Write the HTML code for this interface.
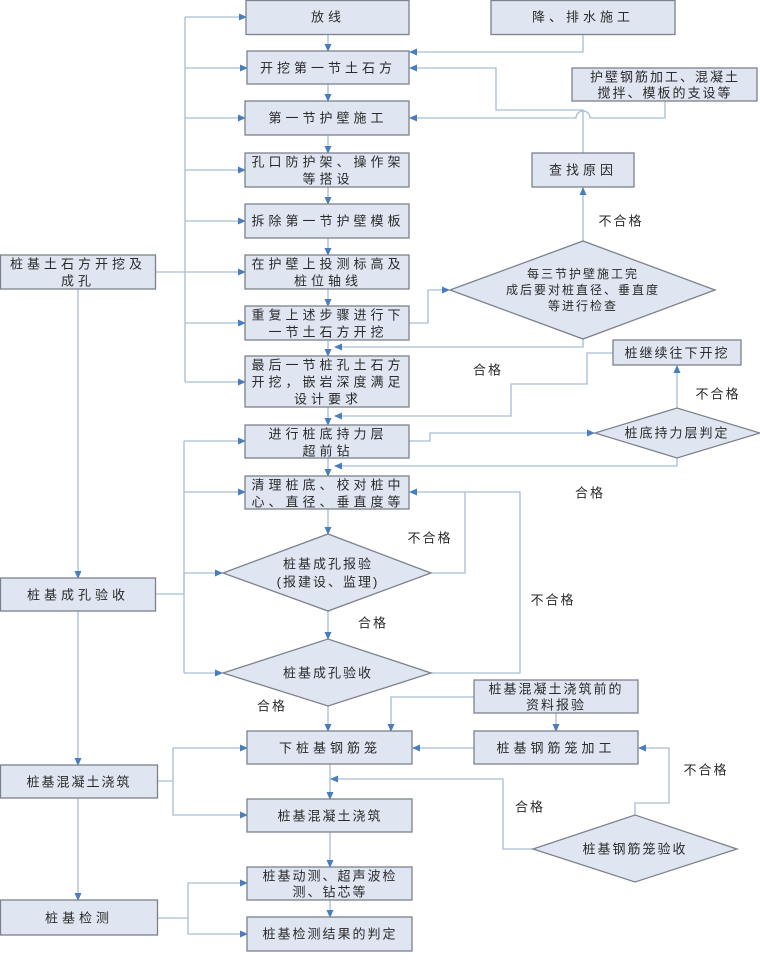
<!DOCTYPE html>
<html><head><meta charset="utf-8">
<style>
html,body{margin:0;padding:0;background:#fff;}
svg{display:block;}
text{font-family:"Liberation Sans","Noto Sans CJK SC","WenQuanYi Zen Hei",sans-serif;font-size:13px;fill:#2a2a2a;letter-spacing:4px;text-anchor:middle;dominant-baseline:central;}
.b{fill:#dfe6f2;stroke:#7c828c;stroke-width:1.3;}
.l{fill:none;stroke:#a6bdd6;stroke-width:1.3;}
.lb{letter-spacing:2px;}
</style></head>
<body>
<svg width="760" height="964" viewBox="0 0 760 964" xmlns="http://www.w3.org/2000/svg">
<defs>
<marker id="a" markerWidth="8" markerHeight="8" refX="7" refY="4" orient="auto" markerUnits="userSpaceOnUse">
<path d="M0,0.5 L8,4 L0,7.5 z" fill="#4a7ebb"/>
</marker>
</defs>

<g class="l" marker-end="url(#a)">
<path d="M78,289 V578"/>
<path d="M78,611 V765"/>
<path d="M78,798 V900"/>
<path d="M185,17 H246"/>
<path d="M185,68 H247"/>
<path d="M185,118 H245"/>
<path d="M185,170 H245"/>
<path d="M185,221 H245"/>
<path d="M155,272 H245"/>
<path d="M185,323 H245"/>
<path d="M185,382 H245"/>
<path d="M328,34 V51"/>
<path d="M328,84 V101"/>
<path d="M328,135 V153"/>
<path d="M328,187 V204"/>
<path d="M328,238 V255"/>
<path d="M328,289 V306"/>
<path d="M328,340 V356"/>
<path d="M328,407 V425"/>
<path d="M328,458 V476"/>
<path d="M328,509 V534"/>
<path d="M328,611 V639"/>
<path d="M328,706 V731"/>
<path d="M330,764 V799"/>
<path d="M330,832 V867"/>
<path d="M330,900 V917"/>
<path d="M583,34 V52 H410"/>
<path d="M583,153 V110 H496 V68 H410"/>
<path d="M665,101 V118 H590 A7,7 0 0 0 576,118 H410"/>
<path d="M583,241 V188"/>
<path d="M409,323 H428 V290 H449"/>
<path d="M583,339 V347 H335"/>
<path d="M613,353 H587 V384 H511 V416 H335"/>
<path d="M409,441 H430 V433 H594"/>
<path d="M677,408 V366"/>
<path d="M677,458 V466 H335"/>
<path d="M184,441 H245"/>
<path d="M184,492 H245"/>
<path d="M155,594 H184 V573 H222"/>
<path d="M184,673 H222"/>
<path d="M431,573 H465 V492 H410"/>
<path d="M474,697 H391 V731"/>
<path d="M556,713 V731"/>
<path d="M474,748 H413"/>
<path d="M635,815 V803 H669 V748 H639"/>
<path d="M533,849 H503 V779 H331"/>
<path d="M157,781 H173 V748 H247"/>
<path d="M173,781 V815 H247"/>
<path d="M157,918 H188 V883 H247"/>
<path d="M188,918 V934 H247"/>
</g>
<path class="l" d="M431,673 H520 V492 H465"/>
<path class="l" d="M184,441 V673"/>
<path class="l" d="M185,17 V382"/>

<rect class="b" x="246" y="0.5" width="163" height="34"/>
<text x="328" y="17">放线</text>
<rect class="b" x="491" y="0.5" width="184" height="34"/>
<text x="583" y="17">降、排水施工</text>
<rect class="b" x="247" y="51" width="162" height="33"/>
<text x="328" y="68">开挖第一节土石方</text>
<rect class="b" x="572" y="68" width="185" height="33"/>
<text x="665" y="77" class="lb">护壁钢筋加工、混凝土</text>
<text x="665" y="93" class="lb">搅拌、模板的支设等</text>
<rect class="b" x="245" y="101" width="164" height="34"/>
<text x="328" y="118">第一节护壁施工</text>
<rect class="b" x="532" y="153" width="102" height="34"/>
<text x="583" y="170">查找原因</text>
<rect class="b" x="245" y="153" width="164" height="34"/>
<text x="328" y="162">孔口防护架、操作架</text>
<text x="328" y="179">等搭设</text>
<rect class="b" x="245" y="204" width="164" height="34"/>
<text x="328" y="221">拆除第一节护壁模板</text>
<rect class="b" x="0.5" y="255" width="155" height="34"/>
<text x="78" y="264">桩基土石方开挖及</text>
<text x="78" y="281">成孔</text>
<rect class="b" x="245" y="255" width="164" height="34"/>
<text x="328" y="264">在护壁上投测标高及</text>
<text x="328" y="281">桩位轴线</text>
<rect class="b" x="245" y="306" width="164" height="34"/>
<text x="328" y="315">重复上述步骤进行下</text>
<text x="328" y="332">一节土石方开挖</text>
<polygon class="b" points="450,290 583,241 715,290 583,339"/>
<text x="583" y="274" style="font-size:12px;letter-spacing:2px">每三节护壁施工完</text>
<text x="583" y="290" style="font-size:12px;letter-spacing:2px">成后要对桩直径、垂直度</text>
<text x="583" y="306" style="font-size:12px;letter-spacing:2px">等进行检查</text>
<rect class="b" x="613" y="340" width="128" height="25"/>
<text x="677" y="353" class="lb">桩继续往下开挖</text>
<rect class="b" x="245" y="356" width="164" height="51"/>
<text x="328" y="365">最后一节桩孔土石方</text>
<text x="328" y="382">开挖，嵌岩深度满足</text>
<text x="328" y="399">设计要求</text>
<rect class="b" x="245" y="425" width="164" height="33"/>
<text x="328" y="434">进行桩底持力层</text>
<text x="328" y="451">超前钻</text>
<polygon class="b" points="595,433 677,408 760,433 677,458"/>
<text x="677" y="433" class="lb">桩底持力层判定</text>
<rect class="b" x="245" y="476" width="164" height="33"/>
<text x="328" y="485">清理桩底、校对桩中</text>
<text x="328" y="502">心、直径、垂直度等</text>
<polygon class="b" points="223,573 328,534 431,573 328,611"/>
<text x="328" y="564" class="lb">桩基成孔报验</text>
<text x="328" y="582" class="lb">(报建设、监理)</text>
<rect class="b" x="0.5" y="578" width="155" height="33"/>
<text x="78" y="595">桩基成孔验收</text>
<polygon class="b" points="223,673 328,639 431,673 328,706"/>
<text x="328" y="673" class="lb">桩基成孔验收</text>
<rect class="b" x="474" y="680" width="164" height="33"/>
<text x="556" y="689" class="lb">桩基混凝土浇筑前的</text>
<text x="556" y="705" class="lb">资料报验</text>
<rect class="b" x="247" y="731" width="165" height="33"/>
<text x="330" y="748">下桩基钢筋笼</text>
<rect class="b" x="474" y="731" width="164" height="33"/>
<text x="556" y="748">桩基钢筋笼加工</text>
<rect class="b" x="0.5" y="765" width="157" height="33"/>
<text x="79" y="782" class="lb">桩基混凝土浇筑</text>
<rect class="b" x="247" y="799" width="165" height="33"/>
<text x="330" y="816" class="lb">桩基混凝土浇筑</text>
<polygon class="b" points="533,849 635,815 737,849 635,882"/>
<text x="635" y="849" class="lb">桩基钢筋笼验收</text>
<rect class="b" x="247" y="867" width="165" height="33"/>
<text x="330" y="876" class="lb">桩基动测、超声波检</text>
<text x="330" y="892" class="lb">测、钻芯等</text>
<rect class="b" x="0.5" y="900" width="157" height="35"/>
<text x="79" y="918">桩基检测</text>
<rect class="b" x="247" y="917" width="165" height="34"/>
<text x="330" y="934" class="lb">桩基检测结果的判定</text>

<text x="621" y="221" class="lb">不合格</text>
<text x="488" y="370" class="lb">合格</text>
<text x="718" y="394" class="lb">不合格</text>
<text x="590" y="493" class="lb">合格</text>
<text x="430" y="538" class="lb">不合格</text>
<text x="553" y="600" class="lb">不合格</text>
<text x="373" y="623" class="lb">合格</text>
<text x="272" y="706" class="lb">合格</text>
<text x="706" y="770" class="lb">不合格</text>
<text x="530" y="807" class="lb">合格</text>
</svg>
</body></html>
